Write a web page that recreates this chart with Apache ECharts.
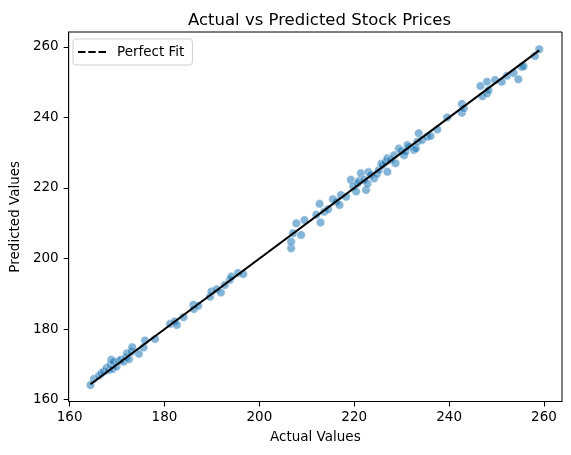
<!DOCTYPE html>
<html>
<head>
<meta charset="utf-8">
<script src="https://cdn.jsdelivr.net/npm/echarts@6/dist/echarts.min.js"></script>
<style>html,body{margin:0;padding:0;background:#fff}#c{width:571px;height:455px}</style>
</head>
<body>
<div id="c"></div>
<script>
var actual = [164.4,165.1,166.2,166.7,167.2,167.8,168.3,168.6,168.8,169.1,169.3,169.9,170.4,170.9,171.4,171.9,172.1,172.5,173.0,173.2,174.6,175.6,175.9,178.0,
  181.2,182.2,182.6,184.0,186.1,186.2,187.1,189.6,189.9,191.0,191.9,192.7,193.8,194.1,195.5,196.6,
  206.7,206.7,207.1,208.8,207.8,209.5,212.9,212.0,213.7,212.7,214.5,215.5,216.2,216.9,217.2,218.3,219.3,219.8,220.7,220.4,221.0,221.4,222.5,222.1,222.8,223.0,223.5,224.2,224.8,225.2,225.7,226.0,227.0,226.6,227.0,227.7,228.4,228.7,229.4,229.9,230.5,230.8,231.2,231.5,232.6,233.0,233.3,233.6,234.3,235.4,236.1,237.5,239.6,
  242.7,242.7,243.1,246.6,247.0,248.0,248.0,248.3,249.7,251.1,252.2,253.6,254.6,255.3,255.7,258.1,259.0];
var predicted = [164.2,165.9,166.8,167.5,168.0,169.0,168.4,169.9,171.3,168.7,170.8,169.4,171.0,171.4,170.8,172.0,173.2,171.5,173.6,174.9,173.0,174.8,176.8,177.2,
  181.5,182.2,181.2,183.4,186.9,185.7,186.6,189.2,190.7,191.3,190.4,192.5,194.0,194.9,195.9,195.6,
  202.9,204.8,207.2,206.7,210.0,210.9,210.2,212.4,213.3,215.5,214.0,216.8,216.1,215.2,218.0,217.5,222.3,220.5,221.3,219.0,222.0,224.2,219.4,222.3,221.2,224.5,223.7,222.7,224.0,225.1,226.9,226.5,224.6,227.4,228.4,227.9,229.3,227.0,231.2,230.5,229.3,230.3,232.2,231.7,230.8,231.2,233.1,235.5,233.6,234.5,234.7,236.6,240.0,
  243.8,241.3,242.6,248.9,246.0,250.1,246.8,247.7,250.6,250.1,251.8,252.6,250.8,254.3,254.5,257.4,259.3];
var fitLine = [[164.4,164.4],[259.0,259.0]];
var tickValues = [160,180,200,220,240,260];

var points = actual.map(function(a,i){return [a, predicted[i]];});
var font = 'DejaVu Sans';
var chart = echarts.init(document.getElementById('c'), null, {renderer:'canvas'});
chart.setOption({
  animation:false,
  backgroundColor:'#fff',
  title:{text:'Actual vs Predicted Stock Prices', left:314.5, top:7, textAlign:'center',
    textStyle:{fontFamily:font, fontSize:16.5, fontWeight:'normal', color:'#000'}},
  grid:{left:67, right:9, top:32, bottom:53.5, show:true, borderColor:'#000', borderWidth:1, backgroundColor:'transparent'},
  legend:{show:true, left:73, top:39, orient:'vertical', padding:[5,8,5,5], itemWidth:28, itemHeight:2,
    backgroundColor:'rgba(255,255,255,0.8)', borderColor:'#d0d0d0', borderWidth:1, borderRadius:3,
    data:[{name:'Perfect Fit', icon:'path://M0,0L7.5,0L7.5,2L0,2Z M10.3,0L17.7,0L17.7,2L10.3,2Z M20.5,0L28,0L28,2L20.5,2Z', itemStyle:{color:'#000', opacity:1}}],
    itemStyle:{color:'#000'},
    textStyle:{fontFamily:font, fontSize:13.5, color:'#000', padding:[0,0,0,6], lineHeight:16}},
  xAxis:{type:'value', min:159.8, max:263.8,
    name:'Actual Values', nameLocation:'middle', nameGap:29,
    nameTextStyle:{fontFamily:font, fontSize:13.5, color:'#000'},
    axisLine:{show:true, onZero:false, lineStyle:{color:'#000', width:1}},
    axisTick:{show:true, length:5, inside:false, customValues:tickValues, lineStyle:{color:'#000'}},
    axisLabel:{fontFamily:font, fontSize:13.5, color:'#000', margin:9, customValues:tickValues},
    splitLine:{show:false}},
  yAxis:{type:'value', min:159.5, max:264.2,
    name:'Predicted Values', nameLocation:'middle', nameGap:44,
    nameTextStyle:{fontFamily:font, fontSize:13.5, color:'#000'},
    axisLine:{show:true, onZero:false, lineStyle:{color:'#000', width:1}},
    axisTick:{show:true, length:5, inside:false, customValues:tickValues, lineStyle:{color:'#000'}},
    axisLabel:{fontFamily:font, fontSize:13.5, color:'#000', margin:10, customValues:tickValues},
    splitLine:{show:false}},
  series:[
    {type:'scatter', name:'Actual', data:points, symbol:'circle', symbolSize:8.5, z:2,
      itemStyle:{color:'#1f77b4', opacity:0.55, borderColor:'#fff', borderWidth:0.8}},
    {type:'line', name:'Perfect Fit', data:fitLine, showSymbol:false, symbol:'none', z:3,
      lineStyle:{color:'#000', width:2, type:'solid'}, itemStyle:{color:'#000'}}
  ]
});
</script>
</body>
</html>
